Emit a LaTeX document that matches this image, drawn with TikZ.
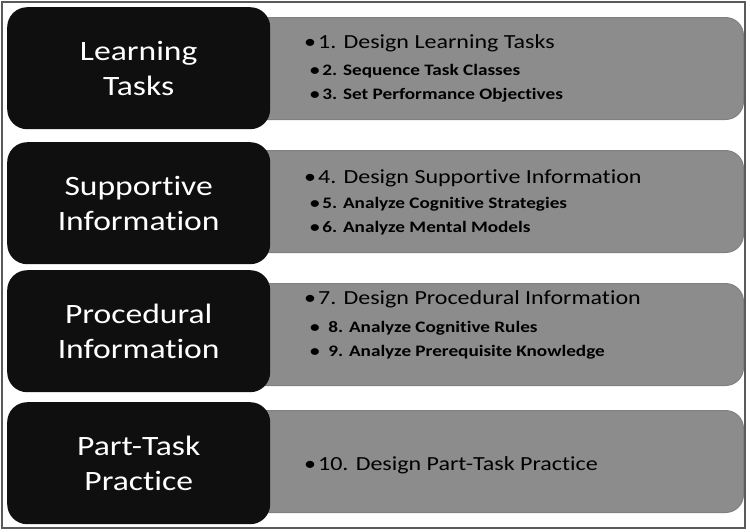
\documentclass[tikz,border=0pt]{standalone}
\usepackage{fontspec}
\setmainfont{Carlito}[FakeStretch=1.2, Ligatures=CommonOff]
\definecolor{panelgray}{HTML}{8C8C8C}
\definecolor{framegray}{HTML}{5A5A5A}
\begin{document}
\begin{tikzpicture}[x=1pt, y=-1pt,
            topic/.style = {fill=black!94, rounded corners=20pt, text=white, align=center, anchor=north west,
                            minimum width=263pt, minimum height=122pt, font=\fontsize{28}{35}\selectfont},
            panel/.style = {fill=panelgray, draw=black!50, line width=1pt, rounded corners=18pt, anchor=north west,
                            minimum width=543pt, minimum height=102pt},
            mainitem/.style = {anchor=base west, inner sep=0pt, font=\fontsize{20}{24}\selectfont},
            subitem/.style = {anchor=base west, inner sep=0pt, font=\fontsize{16}{20}\bfseries\selectfont}
          ]
          \useasboundingbox (0,0) rectangle (750,531);
          \draw[framegray, line width=2.5pt] (2,2) rectangle (745,528);
          % grey panels behind the black boxes
          \node[panel] (pLT) at (200,17) {};
          \node[panel] (pSI) at (200,150) {};
          \node[panel] (pPI) at (200,283) {};
          \node[panel] (pPT) at (200,410) {};
          % black boxes
          \node[topic] (LT) at (7,7) {Learning\\Tasks};
          \node[topic] (SI) at (7,142) {Supportive\\Information};
          \node[topic] (PI) at (7,270) {Procedural\\Information};
          \node[topic] (PT) at (7,402) {Part-Task\\Practice};
          % items
          \node[mainitem] (i1) at (304,48) {•\kern2pt1. Design Learning Tasks};
          \node[subitem] (i2) at (310,75) {•\,2. Sequence Task Classes};
          \node[subitem] (i3) at (310,99) {•\,3. Set Performance Objectives};
          \node[mainitem] (i4) at (304,183) {•\kern2pt4. Design Supportive Information};
          \node[subitem] (i5) at (310,208) {•\,5. Analyze Cognitive Strategies};
          \node[subitem] (i6) at (310,232) {•\,6. Analyze Mental Models};
          \node[mainitem] (i7) at (304,304) {•\kern2pt7. Design Procedural Information};
          \node[subitem] (i8) at (310,332) {•\ \ 8. Analyze Cognitive Rules};
          \node[subitem] (i9) at (310,356) {•\ \ 9. Analyze Prerequisite Knowledge};
          \node[mainitem] (i10) at (304,470) {•\kern2pt10. Design Part-Task Practice};
        \end{tikzpicture}
\end{document}
